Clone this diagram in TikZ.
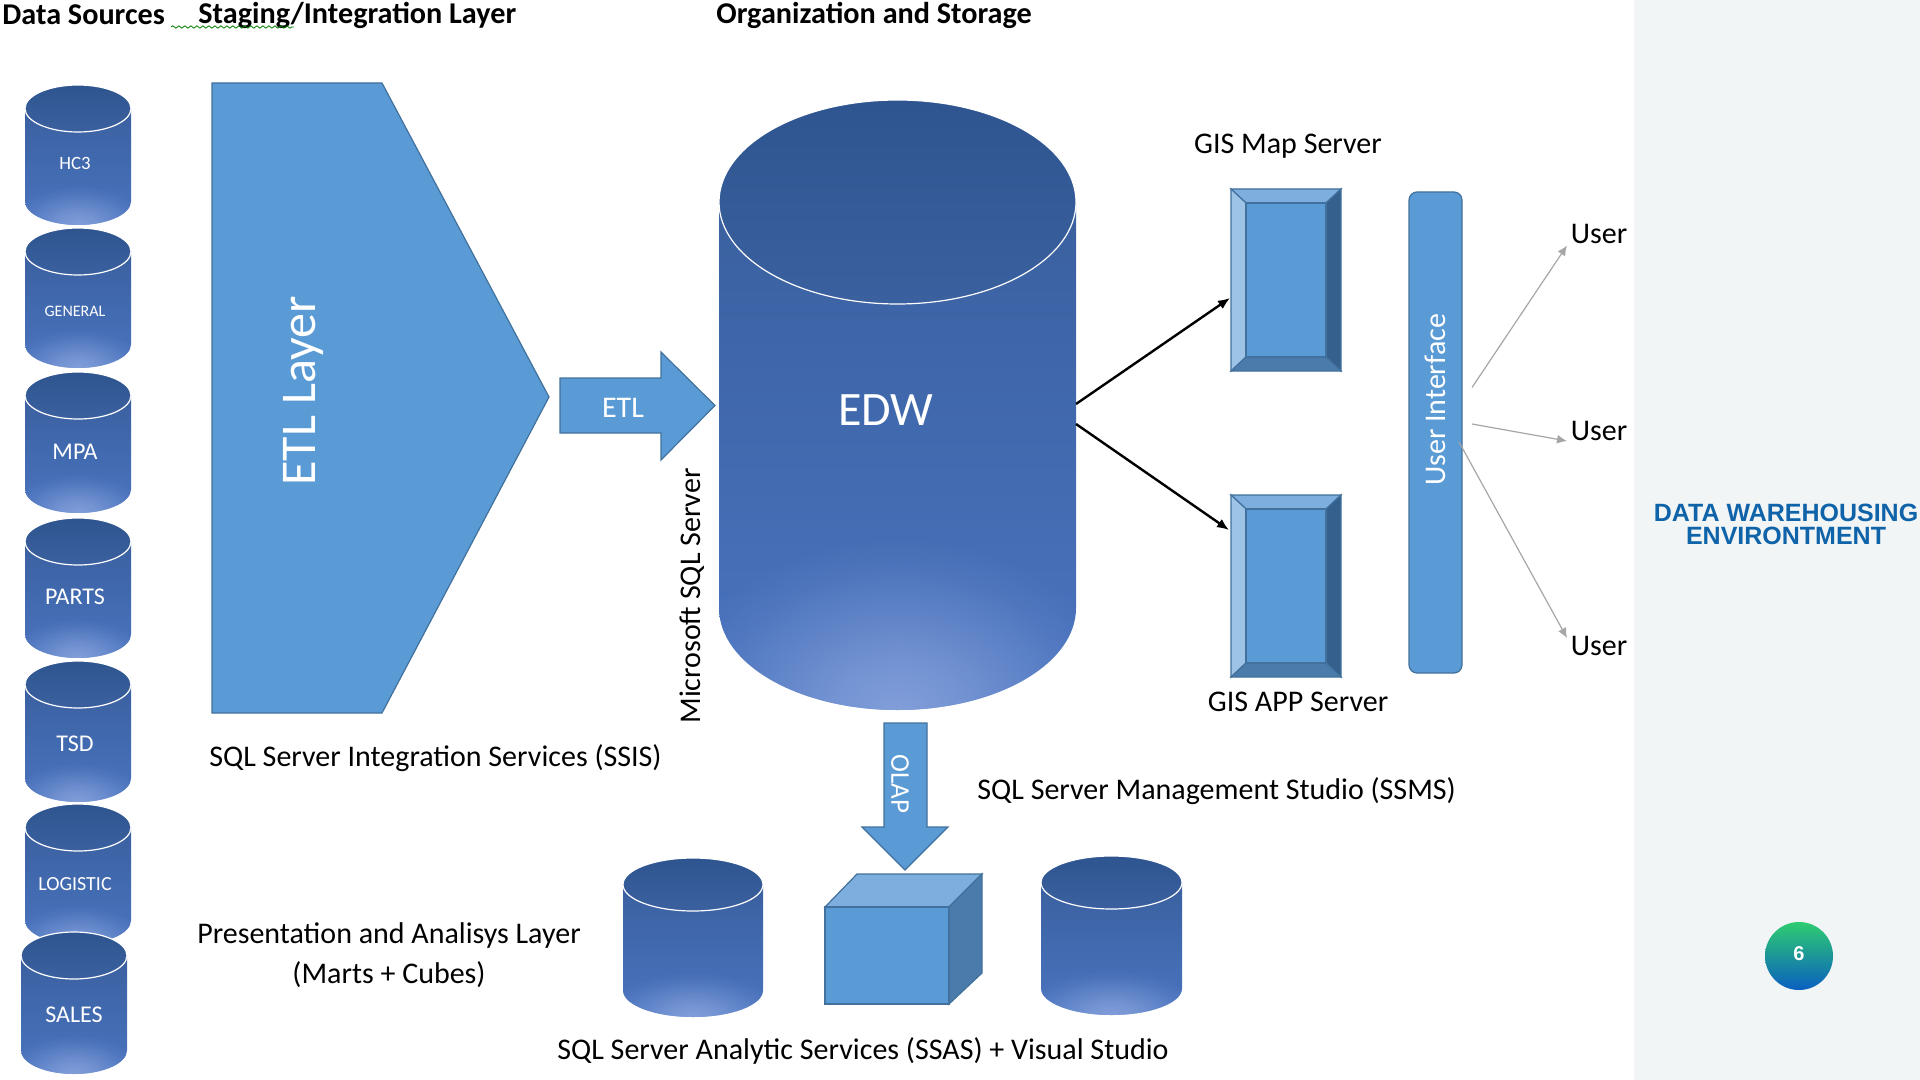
\documentclass[tikz,border=0pt]{standalone}
\usepackage{fontspec}
\setmainfont{Carlito}
\newfontfamily\arialfont{Liberation Sans}
\usetikzlibrary{positioning,fadings,arrows.meta,decorations.pathmorphing}

\definecolor{shapeblue}{HTML}{5B9BD5}
\definecolor{shapeline}{HTML}{41719C}
\definecolor{bevellight}{HTML}{9DC3E6}
\definecolor{beveltop}{HTML}{7DAEDD}
\definecolor{bevelbottom}{HTML}{4A7BAB}
\definecolor{beveldark}{HTML}{355F8C}
\definecolor{panelgrey}{HTML}{F2F5F6}
\definecolor{titleblue}{HTML}{0F63A8}
\definecolor{badgetop}{HTML}{2ECC71}
\definecolor{badgebottom}{HTML}{0A5FC0}
\definecolor{dbtop}{HTML}{2F5590}
\definecolor{dbtoplow}{HTML}{3A609F}
\definecolor{dbmid}{HTML}{4066AC}
\definecolor{dblow}{HTML}{4A74C0}
\definecolor{dbglow}{HTML}{90A9E0}

\pgfdeclareradialshading{glowshade}{\pgfpointorigin}{color(0bp)=(pgftransparent!20); color(7.5bp)=(pgftransparent!42); color(15bp)=(pgftransparent!70); color(20bp)=(pgftransparent!88); color(25bp)=(pgftransparent!100); color(50bp)=(pgftransparent!100)}
\pgfdeclarefading{glowfade}{\pgfuseshading{glowshade}}

\tikzset{
  basic/.style    = {inner sep=0pt, font=\fontsize{15}{18}\selectfont},
  laytitle/.style = {basic, font=\fontsize{15.1}{18}\selectfont\bfseries},
  dblabel/.style  = {basic, text=white},
  block/.style    = {fill=shapeblue, draw=shapeline, line width=0.6pt},
  bevel/.style    = {draw=shapeline, line width=0.6pt},
  toserver/.style = {-{Latex[length=6pt,width=5pt]}, black, line width=1.2pt},
  touser/.style   = {-{Latex[length=5pt,width=4.5pt]}, black!35, line width=0.6pt}
}

% one database drum: name, centre x, top, bottom, x radius, y radius
\newcommand{\dbcyl}[6]{%
  \pgfmathsetmacro{\dbup}{#3+#6}
  \pgfmathsetmacro{\dbdown}{#4-#6}
  \pgfmathsetmacro{\dbleft}{#2-#5}
  \pgfmathsetmacro{\dbright}{#2+#5}
  \shade[top color=dbtoplow, middle color=dbmid, bottom color=dblow]
    (\dbleft,\dbup) -- (\dbleft,\dbdown)
    arc[start angle=180, end angle=0, x radius=#5, y radius=#6]
    -- (\dbright,\dbup) -- cycle;
  \begin{scope}
    \clip (\dbleft,\dbup) -- (\dbleft,\dbdown)
      arc[start angle=180, end angle=0, x radius=#5, y radius=#6]
      -- (\dbright,\dbup) -- cycle;
    \fill[dbglow, path fading=glowfade] (#2,#4) ellipse [x radius=#5*1.3, y radius=#6*1.7];
  \end{scope}
  \shade[top color=dbtop, bottom color=dbtoplow, draw=white, line width=0.6pt] (#2,\dbup) ellipse [x radius=#5, y radius=#6];
  \coordinate (#1) at (#2,\dbup);
}

% one bevelled server box: name, left, top, right, bottom
\newcommand{\gisbox}[5]{%
  \pgfmathsetmacro{\inleft}{#2+15}
  \pgfmathsetmacro{\intop}{#3+14}
  \pgfmathsetmacro{\inright}{#4-15}
  \pgfmathsetmacro{\inbottom}{#5-14}
  \filldraw[bevel, fill=beveltop] (#2,#3) -- (#4,#3) -- (\inright,\intop) -- (\inleft,\intop) -- cycle;
  \filldraw[bevel, fill=bevellight] (#2,#3) -- (\inleft,\intop) -- (\inleft,\inbottom) -- (#2,#5) -- cycle;
  \filldraw[bevel, fill=beveldark] (#4,#3) -- (\inright,\intop) -- (\inright,\inbottom) -- (#4,#5) -- cycle;
  \filldraw[bevel, fill=bevelbottom] (#2,#5) -- (\inleft,\inbottom) -- (\inright,\inbottom) -- (#4,#5) -- cycle;
  \filldraw[bevel, fill=shapeblue] (\inleft,\intop) rectangle (\inright,\inbottom);
  \coordinate (#1) at (#2,#3);
}

\begin{document}
\begin{tikzpicture}[x=0.5pt, y=-0.5pt]
\useasboundingbox (0,0) rectangle (1920,1080);

% side panel
\fill[panelgrey] (1634,0) rectangle (1920,1080);
\node[basic, font=\arialfont\bfseries\fontsize{12.5}{11.5}\selectfont, text=titleblue, align=center] (envtitle) at (1786,524) {DATA WAREHOUSING\\ENVIRONTMENT};
\shade[top color=badgetop, bottom color=badgebottom] (1799,956) ellipse [x radius=34, y radius=34];
\node[basic, font=\arialfont\bfseries\fontsize{10}{12}\selectfont, text=white] (pagenum) at (1799,954) {6};

% layer titles
\node[laytitle, anchor=west] (srctitle) at (2,15) {Data Sources};
\node[laytitle, anchor=west] (stagetitle) at (198,15) {Staging/Integration Layer};
\node[laytitle, anchor=west] (orgtitle) at (716,15) {Organization and Storage};
\coordinate (squigstart) at (171,27);
\coordinate (squigend) at (294,27);
\draw[green!50!black, line width=0.4pt, decorate, decoration={snake, segment length=3pt, amplitude=0.6pt}] (squigstart) -- (squigend);

% data sources
\dbcyl{hc}{78}{85}{225}{53}{23.5}
\dbcyl{general}{78}{228}{368}{53}{23.5}
\dbcyl{mpa}{78}{372}{513}{53}{23.5}
\dbcyl{parts}{78}{518}{658}{53}{23.5}
\dbcyl{tsd}{78}{661}{802}{53}{23.5}
\dbcyl{logistic}{78}{804}{944}{53}{23.5}
\dbcyl{sales}{74}{932}{1074}{53}{23.5}
\node[dblabel, font=\fontsize{9.4}{11}\selectfont] (hclabel) at (75,163) {HC3};
\node[dblabel, font=\fontsize{8}{10}\selectfont] (generallabel) at (75,311) {GENERAL};
\node[dblabel, font=\fontsize{12}{14}\selectfont] (mpalabel) at (75,452) {MPA};
\node[dblabel, font=\fontsize{12}{14}\selectfont] (partslabel) at (75,597) {PARTS};
\node[dblabel, font=\fontsize{12}{14}\selectfont] (tsdlabel) at (75,744) {TSD};
\node[dblabel, font=\fontsize{10}{12}\selectfont] (logisticlabel) at (75,884) {LOGISTIC};
\node[dblabel, font=\fontsize{12}{14}\selectfont] (saleslabel) at (74,1015) {SALES};

% staging layer
\filldraw[block] (212,83) -- (382,83) -- (549,397) -- (382,713) -- (212,713) -- cycle;
\node[dblabel, font=\fontsize{25}{29}\selectfont, rotate=90] (etllayer) at (303,391) {ETL Layer};
\filldraw[block] (560,378) -- (661,378) -- (661,352) -- (715,405.5) -- (661,460) -- (661,433) -- (560,433) -- cycle;
\node[dblabel] (etllabel) at (623,408) {ETL};
\node[basic, anchor=west] (ssis) at (209,758) {SQL Server Integration Services (SSIS)};

% warehouse
\dbcyl{edw}{897.5}{100}{710}{178.5}{102}
\node[dblabel, font=\fontsize{24}{28}\selectfont] (edwlabel) at (886,410) {EDW};
\node[basic, rotate=90] (mssql) at (692,596) {Microsoft SQL Server};

% servers
\gisbox{gismap}{1231}{189}{1341}{371}
\gisbox{gisapp}{1231}{495}{1341}{677}
\node[basic] (gismaplabel) at (1288,146.5) {GIS Map Server};
\node[basic] (gisapplabel) at (1298,702) {GIS APP Server};
\coordinate (edwup) at (1076,404);
\coordinate (edwdown) at (1076,424);
\coordinate (mapin) at (1230,298);
\coordinate (appin) at (1229,530);
\draw[toserver] (edwup) -- (mapin);
\draw[toserver] (edwdown) -- (appin);

% user interface
\filldraw[block, rounded corners=4pt] (1409,192) rectangle (1462,673);
\node[dblabel, rotate=90] (uilabel) at (1435.5,400) {User Interface};
\node[basic] (userone) at (1599,234) {User};
\node[basic] (usertwo) at (1599,431) {User};
\node[basic] (userthree) at (1599,646) {User};
\coordinate (uione) at (1472,387.5);
\coordinate (uitwo) at (1472,424);
\coordinate (uithree) at (1459,442);
\coordinate (userinone) at (1567,245.5);
\coordinate (userintwo) at (1567,441);
\coordinate (userinthree) at (1567,638);
\draw[touser] (uione) -- (userinone);
\draw[touser] (uitwo) -- (userintwo);
\draw[touser] (uithree) -- (userinthree);

% presentation layer
\filldraw[block] (884,723) -- (927,723) -- (927,827) -- (948,827) -- (905,870) -- (862,827) -- (884,827) -- cycle;
\node[dblabel, font=\fontsize{13.5}{15}\selectfont, rotate=-90] (olaplabel) at (900,784) {OLAP};
\node[basic, anchor=west] (ssms) at (977,791) {SQL Server Management Studio (SSMS)};
\dbcyl{martleft}{693}{858}{1017}{70}{26.5}
\dbcyl{martright}{1111.5}{856}{1015}{70.5}{26.5}
\filldraw[bevel, fill=beveltop] (825,907) -- (857,874) -- (982,874) -- (949,907) -- cycle;
\filldraw[bevel, fill=bevelbottom] (949,907) -- (982,874) -- (982,973) -- (949,1004) -- cycle;
\filldraw[bevel, fill=shapeblue] (825,907) rectangle (949,1004);
\node[basic, align=center, font=\fontsize{15}{20}\selectfont] (preslabel) at (389,955) {Presentation and Analisys Layer\\(Marts + Cubes)};
\node[basic, anchor=west] (ssas) at (557,1051) {SQL Server Analytic Services (SSAS) + Visual Studio};

\end{tikzpicture}
\end{document}
